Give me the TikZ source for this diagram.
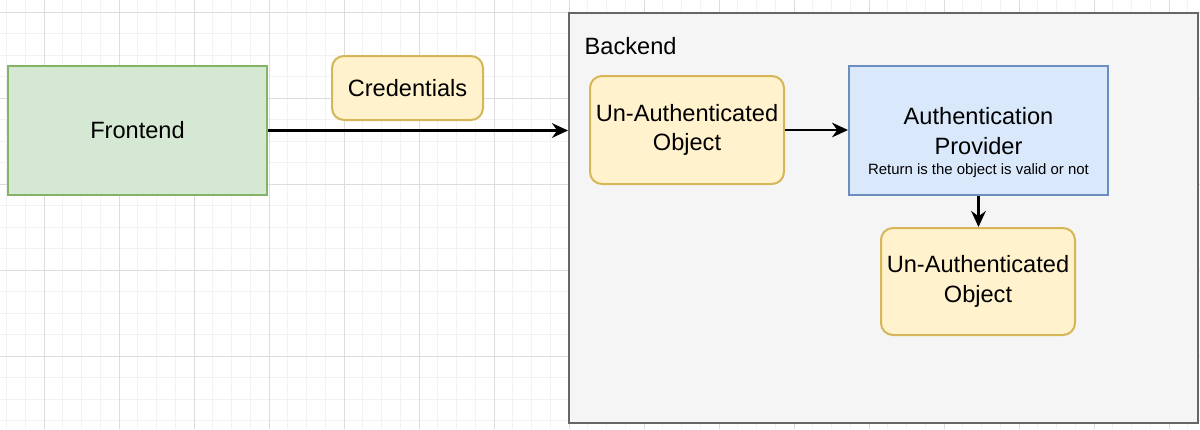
\documentclass[tikz,border=0pt]{standalone}
\usepackage{fontspec}
\setmainfont{Liberation Sans}
\usetikzlibrary{arrows.meta}
\definecolor{gminor}{HTML}{F2F2F2}
\definecolor{gmajor}{HTML}{DDDDDD}
\begin{document}
\begin{tikzpicture}[x=0.75pt,y=-0.75pt,
  lbl/.style={font=\fontsize{17.7}{22}\selectfont,align=center,text=black},
  yel/.style={draw={rgb,255:red,214;green,182;blue,86},fill={rgb,255:red,255;green,242;blue,204},line width=1.5pt,rounded corners=9pt,lbl},
  arr/.style={-{Stealth[length=12pt,width=11pt]},line width=1.6pt,black}]
\useasboundingbox (0,0) rectangle (1200,429);
\fill[white] (0,0) rectangle (1200,429);
\foreach \i in {0,...,64} {\draw[gminor,line width=0.6pt] ({44+18.75*(\i-3)},0) -- ({44+18.75*(\i-3)},429);}
\foreach \i in {0,...,21} {\draw[gminor,line width=0.6pt] (0,{12+21.5*\i}) -- (1200,{12+21.5*\i});}
\foreach \i in {0,...,16} {\draw[gmajor,line width=0.7pt] ({44+75*\i},0) -- ({44+75*\i},429);}
\foreach \i in {0,...,5} {\draw[gmajor,line width=0.7pt] (0,{12+86*\i}) -- (1200,{12+86*\i});}
\node[draw={rgb,255:red,102;green,102;blue,102},fill={rgb,255:red,245;green,245;blue,245},line width=1.8pt,minimum width=629*0.75pt,minimum height=410*0.75pt,anchor=north west] (be) at (568,12) {};
\node[lbl,anchor=west] (bel) at (580,46) {Backend};
\node[draw={rgb,255:red,130;green,179;blue,102},fill={rgb,255:red,213;green,232;blue,212},line width=1.5pt,minimum width=259*0.75pt,minimum height=129*0.75pt,lbl] (fe) at (137.5,130.5) {Frontend};
\node[yel,minimum width=151*0.75pt,minimum height=64*0.75pt] (cr) at (407.5,88) {Credentials};
\node[yel,minimum width=194*0.75pt,minimum height=108*0.75pt] (u1) at (687,130) {Un-Authenticated\\Object};
\node[draw={rgb,255:red,108;green,142;blue,191},fill={rgb,255:red,218;green,232;blue,252},line width=1.5pt,minimum width=259*0.75pt,minimum height=129*0.75pt] (ap) at (978.5,130.5) {};
\node[lbl] (apt) at (978.5,131) {Authentication\\Provider};
\node[font=\fontsize{11.2}{13}\selectfont] (aps) at (978.5,171) {Return is the object is valid or not};
\node[yel,minimum width=194*0.75pt,minimum height=107*0.75pt] (u2) at (978,281.5) {Un-Authenticated\\Object};
\draw[arr] (fe.east) -- (fe.east -| be.west);
\draw[arr] (u1.east) -- (u1.east -| ap.west);
\draw[arr] (ap.south) -- (ap.south |- u2.north);
\end{tikzpicture}
\end{document}
